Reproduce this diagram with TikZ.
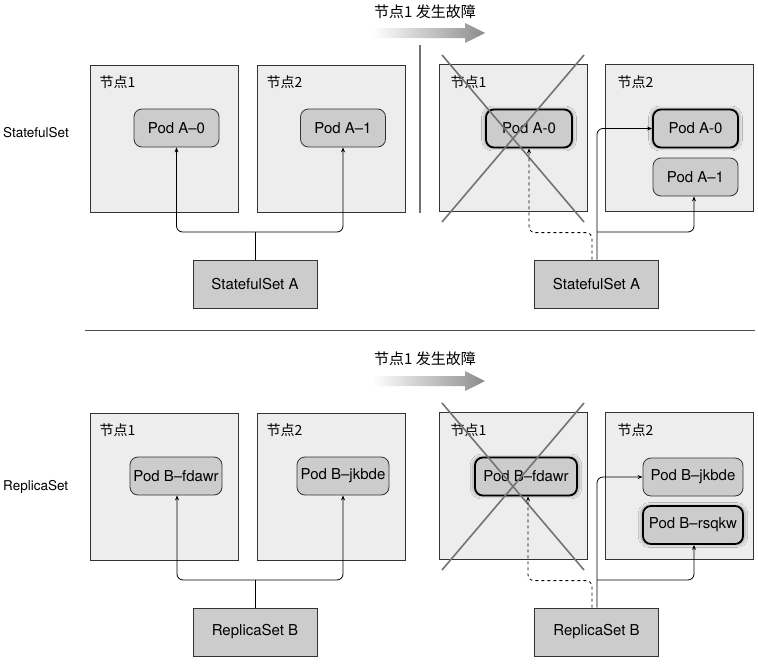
\documentclass[tikz,border=0pt]{standalone}
\usepackage{fontspec}
\setmainfont{TeX Gyre Heros}
\newfontfamily\cjk{Noto Sans CJK SC}
\usetikzlibrary{arrows.meta,shadows.blur}
\begin{document}
\begin{tikzpicture}[x=1pt,y=-1pt,
  every node/.style={font=\fontsize{15}{17}\selectfont},
  side/.style={anchor=west,inner sep=0pt,font=\fontsize{13.5}{15}\selectfont},
  nodebox/.style={draw=black!80,fill=black!7,line width=0.8pt,minimum width=148pt,minimum height=147pt},
  pod/.style={draw=black!80,fill=black!20,rounded corners=8pt,line width=0.8pt,minimum height=38pt,inner sep=2pt},
  podb/.style={pod,line width=1.8pt,draw=black,blur shadow={shadow xshift=0pt,shadow yshift=0pt,shadow blur radius=2.5pt,shadow scale=1.04,shadow blur steps=12,shadow opacity=30}},
  ctrl/.style={draw=black!80,fill=black!20,line width=0.8pt,minimum width=124pt,minimum height=48pt},
  conn/.style={line width=0.8pt,rounded corners=6pt,-{Stealth[length=5pt,width=4pt]}},
  lbl/.style={anchor=west,font=\cjk\fontsize{14}{16}\selectfont},
  cross/.style={draw=black!55,line width=1.6pt},
  hdr/.style={font=\cjk\fontsize{15}{17}\selectfont}]
\useasboundingbox[fill=white] (0,0) rectangle (758,664);
% ===== top =====
\node[hdr] (h1) at (425,12) {节点1 发生故障};
\shade[left color=white,right color=black!45] (372,28) -- (465,28) -- (465,23) -- (485,33) -- (465,43) -- (465,38) -- (372,38) -- cycle;
\node[side] (sl) at (3,133) {StatefulSet};
\draw[draw=black!55,line width=1.2pt] (420,45) -- (420,213);
\node[nodebox] (b1) at (164,138.5) {};
\node[nodebox] (b2) at (331,138.5) {};
\node[nodebox] (b3) at (513,138) {};
\node[nodebox] (b4) at (679.5,138) {};
\node[lbl] (t1) at (96,82) {节点1};
\node[lbl] (t2) at (263,82) {节点2};
\node[lbl] (t3) at (447,82) {节点1};
\node[lbl] (t4) at (614,82) {节点2};
\node[pod,minimum width=85pt] (pa0) at (176.5,128) {Pod A–0};
\node[pod,minimum width=85pt] (pa1) at (343,128) {Pod A–1};
\node[podb,minimum width=86pt] (qa0) at (529,128.5) {Pod A-0};
\node[podb,minimum width=85pt] (qb0) at (695.5,128.5) {Pod A-0};
\node[pod,minimum width=85pt] (qb1) at (695.5,177) {Pod A–1};
\draw[cross] (442,55) -- (584,222);
\draw[cross] (584,55) -- (442,222);
\node[ctrl] (ssl) at (255,284) {StatefulSet A};
\node[ctrl] (ssr) at (596.5,284) {StatefulSet A};
\coordinate (jl) at (255,232);
\draw[line width=0.8pt] (ssl.north) -- (jl);
\draw[conn] (jl) -| (pa0.south);
\draw[conn] (jl) -| (pa1.south);
\coordinate (jr) at (597,232);
\draw[conn] ([xshift=0.5pt]ssr.north) |- (qb0.west);
\draw[conn] (jr) -| ([xshift=-1.5pt]qb1.south);
\draw[conn,dashed] ([xshift=-4.5pt]ssr.north) -- ++(0,-27) -| (qa0.south);
\draw[black!70,line width=0.8pt] (85,330) -- (755,330);
% ===== bottom =====
\node[hdr] (h2) at (425,359) {节点1 发生故障};
\shade[left color=white,right color=black!45] (372,376) -- (465,376) -- (465,371) -- (485,381) -- (465,391) -- (465,386) -- (372,386) -- cycle;
\node[side] (rl) at (3,487) {ReplicaSet};
\node[nodebox] (c1) at (164,486.5) {};
\node[nodebox] (c2) at (331,486.5) {};
\node[nodebox] (c3) at (513,486) {};
\node[nodebox] (c4) at (679.5,486) {};
\node[lbl] (u1) at (96,430) {节点1};
\node[lbl] (u2) at (263,430) {节点2};
\node[lbl] (u3) at (447,430) {节点1};
\node[lbl] (u4) at (614,430) {节点2};
\node[pod,minimum width=92pt] (ra0) at (176,476) {Pod B–fdawr};
\node[pod,minimum width=92pt] (ra1) at (343,476) {Pod B–jkbde};
\node[podb,minimum width=102pt] (sa0) at (526,476.5) {Pod B–fdawr};
\node[pod,minimum width=100pt] (sb0) at (693,477) {Pod B–jkbde};
\node[podb,minimum width=100pt] (sb1) at (693,525) {Pod B–rsqkw};
\draw[cross] (442,403) -- (584,570);
\draw[cross] (584,403) -- (442,570);
\node[ctrl] (rsl) at (255,632) {ReplicaSet B};
\node[ctrl] (rsr) at (596.5,632) {ReplicaSet B};
\coordinate (kl) at (255,580);
\draw[line width=0.8pt] (rsl.north) -- (kl);
\draw[conn] (kl) -| ([xshift=1pt]ra0.south);
\draw[conn] (kl) -| (ra1.south);
\coordinate (kr) at (597,580);
\draw[conn] ([xshift=0.5pt]rsr.north) |- (sb0.west);
\draw[conn] (kr) -| ([xshift=1pt]sb1.south);
\draw[conn,dashed] ([xshift=-4.5pt]rsr.north) -- ++(0,-27) -| ([xshift=2pt]sa0.south);
\end{tikzpicture}
\end{document}
